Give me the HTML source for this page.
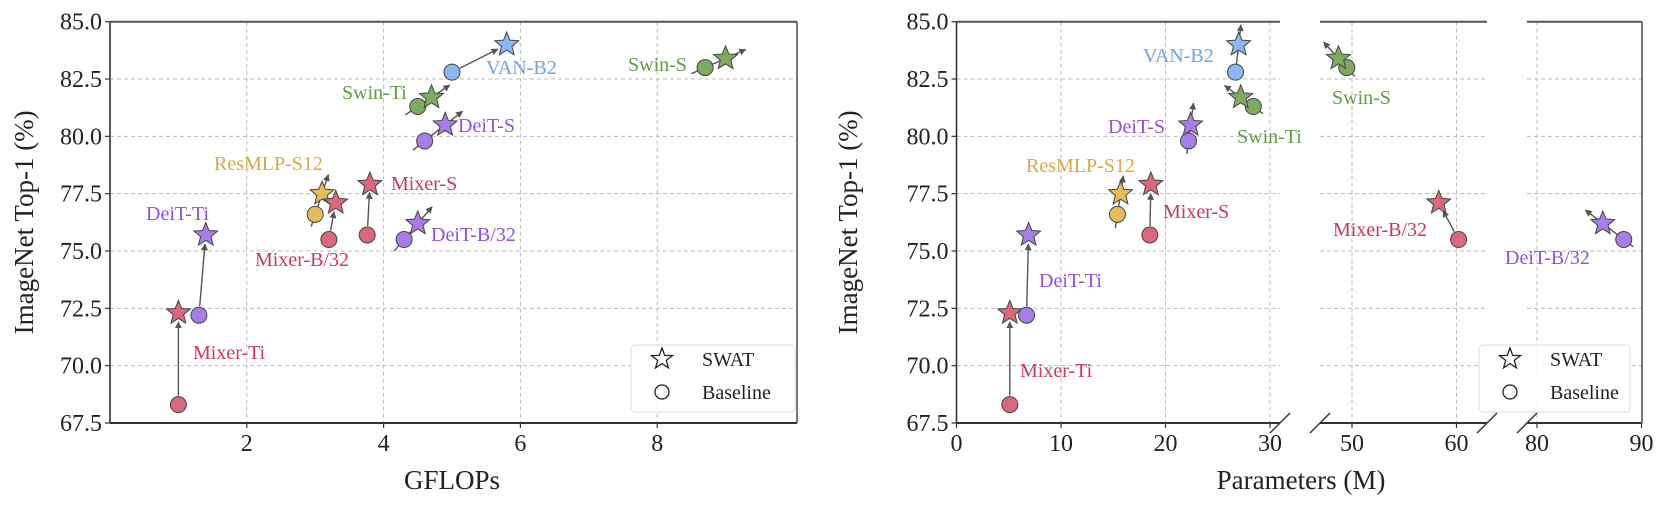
<!DOCTYPE html>
<html><head><meta charset="utf-8">
<style>
html,body{margin:0;padding:0;background:#fff;}
svg, svg text{font-family:"Liberation Serif","DejaVu Serif",serif;}
</style></head>
<body>
<svg id="fig" width="1668" height="508" viewBox="0 0 1668 508" xmlns="http://www.w3.org/2000/svg" font-family="Liberation Serif, DejaVu Serif, serif">
<defs>
<marker id="ah" viewBox="0 0 10 10" refX="9" refY="5" markerWidth="7" markerHeight="7" orient="auto-start-reverse" markerUnits="userSpaceOnUse">
<path d="M0,0 L10,5 L0,10 z" fill="#555"/>
</marker>
</defs>
<g id="left"></g>
<g id="right"></g>
</svg>
<script>
const models = ["Mixer-Ti","DeiT-Ti","ResMLP-S12","Mixer-B/32","Mixer-S","DeiT-B/32","DeiT-S","Swin-Ti","VAN-B2","Swin-S"];
const baseAcc = [68.3,72.2,76.6,75.5,75.7,75.5,79.8,81.3,82.8,83.0];
const swatAcc = [72.3,75.7,77.5,77.1,77.9,76.2,80.5,81.7,84.0,83.4];
const baseGflops = [1.0,1.3,3.0,3.2,3.76,4.3,4.6,4.5,5.0,8.7];
const swatGflops = [1.0,1.4,3.1,3.3,3.8,4.5,4.9,4.7,5.8,9.0];
const baseParams = [5.1,6.7,15.4,60.2,18.5,88.3,22.2,28.4,26.7,49.5];
const swatParams = [5.1,6.9,15.7,58.3,18.6,86.3,22.4,27.2,27.0,48.7];
const yTicks = [67.5,70.0,72.5,75.0,77.5,80.0,82.5,85.0];
const xTicksL = [2,4,6,8];
const xTicksR = [0,10,20,30,50,60,80,90];

const fill = {"Mixer":"#d9687f","DeiT":"#a77de8","ResMLP":"#e3bd5c","Swin":"#7faa62","VAN":"#8db7f2"};
const tcol = {"Mixer":"#c73a58","DeiT":"#9150e0","ResMLP":"#d6a84a","Swin":"#5f9c45","VAN":"#6fa2ee"};
function fam(m){return m.split("-")[0];}

const TOP=21.7, BOT=423;
const yS = v => TOP + (85 - v) * (BOT-TOP)/17.5;
const xL = v => 110 + 68.4*v;
function xR(v){
  const k=10.45;
  if(v<=35) return 956.5 + k*v;
  if(v<=70) return 1352 + k*(v-50);
  return 1537 + k*(v-80);
}
const leftLab = [[193,352],[146,213],[214,163],[255,259],[391,183],[431,234],[458,125],[342,92],[486,67],[628,64]];
const rightLab = [[1020,370],[1039,280],[1026,165],[1333,229],[1163,211],[1505,257],[1108,126],[1237,136],[1143,55],[1332,97]];
const arrL = [[9,-9],[9,-9],[-13,20],[9,-9],[9,-8],[-15,22],[-15,22],[-15,22],[9,-10],[-15,22]];
const arrR = [[9,-9],[9,-9],[-14,18],[9,-9],[9,-9],[-12,22],[-13,22],[-12,20],[-8,20],[-12,22]];

const NS="http://www.w3.org/2000/svg";
function el(tag,attrs,parent){const e=document.createElementNS(NS,tag);for(const k in attrs)e.setAttribute(k,attrs[k]);parent.appendChild(e);return e;}
function starPath(cx,cy,R,r){let d="";for(let i=0;i<10;i++){const ang=-Math.PI/2+i*Math.PI/5;const rr=i%2?r:R;d+=(i?"L":"M")+(cx+rr*Math.cos(ang)).toFixed(2)+","+(cy+rr*Math.sin(ang)).toFixed(2);}return d+"Z";}

function drawChart(g, xf, bx, sx, labs, arr, opts){
  const gridG = el("g",{},g);
  
  
  opts.hSegs.forEach(s=>{
    yTicks.forEach(t=>{ if(t===67.5||t===85) return;
      const ln=el("line",{x1:s[0],x2:s[1],y1:yS(t),y2:yS(t),stroke:"#bbb","stroke-width":1,"stroke-dasharray":"4,3"},gridG);
      
      
    });
  });
  opts.xGrid.forEach(t=>{
    const ln=el("line",{x1:xf(t),x2:xf(t),y1:TOP,y2:BOT,stroke:"#bbb","stroke-width":1,"stroke-dasharray":"4,3"},gridG);
    
    
  });
  opts.hSegs.forEach(s=>{
    const t=el("line",{x1:s[0],x2:s[1],y1:TOP,y2:TOP,stroke:"#555","stroke-width":2},g);
    
    
    const b=el("line",{x1:s[0],x2:s[1],y1:BOT,y2:BOT,stroke:"#333","stroke-width":2},g);
    
    
  });
  const ls=el("line",{x1:opts.left,x2:opts.left,y1:TOP,y2:BOT,stroke:"#333","stroke-width":1.6},g);
  
  
  const rs=el("line",{x1:opts.right,x2:opts.right,y1:TOP,y2:BOT,stroke:"#555","stroke-width":1.6},g);
  
  
  yTicks.forEach(t=>{
    el("line",{x1:opts.left-5,x2:opts.left,y1:yS(t),y2:yS(t),stroke:"#333","stroke-width":1.2},g);
    const tx=el("text",{x:opts.left-8,y:yS(t)+8,"text-anchor":"end","font-size":24,fill:"#222"},g);
    tx.textContent=t.toFixed(1);
    
    
  });
  opts.xTicks.forEach(t=>{
    el("line",{x1:xf(t),x2:xf(t),y1:BOT,y2:BOT+5,stroke:"#333","stroke-width":1.2},g);
    const tx=el("text",{x:xf(t),y:451,"text-anchor":"middle","font-size":24,fill:"#222"},g);
    tx.textContent=String(t);
    
    
  });
  const yt=el("text",{x:0,y:0,"text-anchor":"middle","font-size":27,fill:"#222",transform:`translate(${opts.yTitleX},${(TOP+BOT)/2}) rotate(-90)`},g);
  yt.textContent="ImageNet Top-1 (%)";
  
  
  const xt=el("text",{x:opts.xTitleX,y:489,"text-anchor":"middle","font-size":27,fill:"#222"},g);
  xt.textContent=opts.xTitle;
  
  
  models.forEach((m,i)=>{
    const bxp=xf(bx[i]), byp=yS(baseAcc[i]), sxp=xf(sx[i]), syp=yS(swatAcc[i]);
    const dx=sxp-bxp, dy=syp-byp, L=Math.hypot(dx,dy)||1, ux=dx/L, uy=dy/L;
    const a=arr[i];
    const ar=el("line",{x1:bxp+ux*a[0],y1:byp+uy*a[0],x2:sxp+ux*a[1],y2:syp+uy*a[1],stroke:"#555","stroke-width":1.4,"marker-end":"url(#ah)"},g);
    
    
  });
  models.forEach((m,i)=>{
    const f=fam(m);
    const c=el("circle",{cx:xf(bx[i]),cy:yS(baseAcc[i]),r:8,fill:fill[f],stroke:"#444","stroke-width":1},g);
    
    
    const s=el("path",{d:starPath(xf(sx[i]),yS(swatAcc[i]),12.5,5.5),fill:fill[f],stroke:"#444","stroke-width":1},g);
    
    
    const t=el("text",{x:labs[i][0],y:labs[i][1]+7,"font-size":20,fill:tcol[f]},g);
    t.textContent=m;
    
    
  });
  const lg=el("g",{},g);
  
  
  const L0=opts.legend;
  el("rect",{x:L0[0],y:345,width:L0[1],height:67,rx:4,fill:"#fff","fill-opacity":0.85,stroke:"#ddd"},lg);
  const ls1=el("path",{d:starPath(L0[0]+31,359,11,4.5),fill:"none",stroke:"#222","stroke-width":1.3},lg);
  
  
  const lt1=el("text",{x:L0[0]+71,y:366,"font-size":20,fill:"#222"},lg);
  lt1.textContent="SWAT";
  
  
  const lc=el("circle",{cx:L0[0]+31,cy:392,r:7,fill:"none",stroke:"#222","stroke-width":1.3},lg);
  
  
  const lt2=el("text",{x:L0[0]+71,y:399,"font-size":20,fill:"#222"},lg);
  lt2.textContent="Baseline";
  
  
}

drawChart(document.getElementById("left"), xL, baseGflops, swatGflops, leftLab, arrL, {
  hSegs:[[110,797]], xGrid:xTicksL, xTicks:xTicksL, left:110, right:797,
  yTitleX:33, xTitleX:452, xTitle:"GFLOPs", legend:[631,164]
});
const rg=document.getElementById("right");
drawChart(rg, xR, baseParams, swatParams, rightLab, arrR, {
  hSegs:[[956.5,1280],[1320,1487],[1527,1642]], xGrid:[10,20,30,50,60,80], xTicks:xTicksR, left:956.5, right:1642,
  yTitleX:857, xTitleX:1301, xTitle:"Parameters (M)", legend:[1479,151]
});
[1280,1320,1487,1527].forEach(x=>{
  const b=el("line",{x1:x-10,y1:BOT+10,x2:x+10,y2:BOT-10,stroke:"#333","stroke-width":1.4},rg);
  
  
});
</script>
</body></html>
